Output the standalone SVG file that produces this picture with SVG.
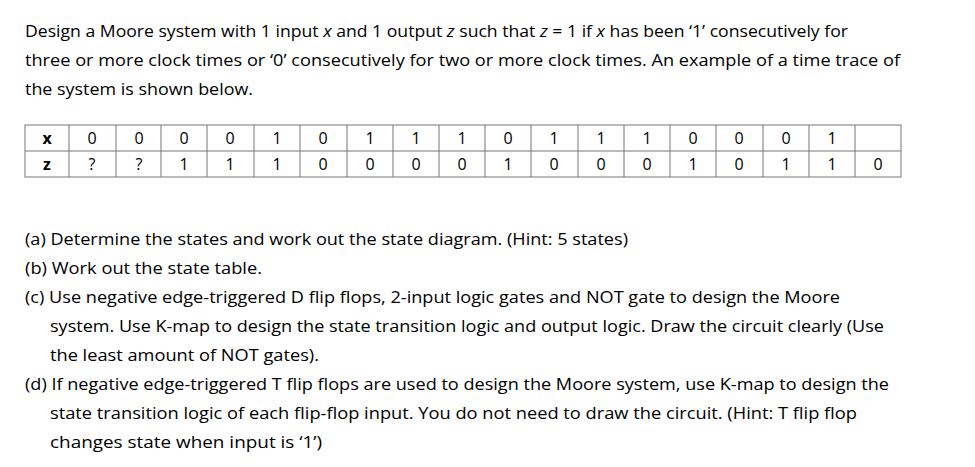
<svg xmlns="http://www.w3.org/2000/svg" width="975" height="467" viewBox="0 0 975 467">
<style>
text{font-family:"Open Sans","Liberation Sans",sans-serif;font-size:16.5px;fill:#000}
.c{text-anchor:middle;font-size:16px}
.b{font-weight:bold}
.i{font-style:italic}
line{stroke:#777;stroke-width:1}
</style>
<rect width="975" height="467" fill="#fff"/>
<g id="intro">
<text x="25" y="37" textLength="823" lengthAdjust="spacingAndGlyphs">Design a Moore system with 1 input <tspan class="i">x</tspan> and 1 output <tspan class="i">z</tspan> such that <tspan class="i">z</tspan> = 1 if <tspan class="i">x</tspan> has been ‘1’ consecutively for</text>
<text x="25" y="66" textLength="875" lengthAdjust="spacingAndGlyphs">three or more clock times or ‘0’ consecutively for two or more clock times. An example of a time trace of</text>
<text x="25" y="95" textLength="228" lengthAdjust="spacingAndGlyphs">the system is shown below.</text>
</g>
<g id="table">
<rect x="25" y="125" width="876" height="52" fill="none" stroke="#777"/>
<line x1="25" y1="151" x2="901" y2="151"/>
<line x1="69" y1="125" x2="69" y2="177"/><line x1="116" y1="125" x2="116" y2="177"/><line x1="161" y1="125" x2="161" y2="177"/><line x1="207" y1="125" x2="207" y2="177"/><line x1="254" y1="125" x2="254" y2="177"/><line x1="300" y1="125" x2="300" y2="177"/><line x1="347" y1="125" x2="347" y2="177"/><line x1="393" y1="125" x2="393" y2="177"/><line x1="439" y1="125" x2="439" y2="177"/><line x1="485" y1="125" x2="485" y2="177"/><line x1="531" y1="125" x2="531" y2="177"/><line x1="578" y1="125" x2="578" y2="177"/><line x1="624" y1="125" x2="624" y2="177"/><line x1="670" y1="125" x2="670" y2="177"/><line x1="716" y1="125" x2="716" y2="177"/><line x1="763" y1="125" x2="763" y2="177"/><line x1="809" y1="125" x2="809" y2="177"/><line x1="855" y1="125" x2="855" y2="177"/>
<text class="c b" x="47" y="144">x</text><text class="c b" x="47" y="170">z</text>
<text class="c" x="92" y="144">0</text><text class="c" x="139" y="144">0</text><text class="c" x="184" y="144">0</text><text class="c" x="230" y="144">0</text><text class="c" x="277" y="144">1</text><text class="c" x="323" y="144">0</text><text class="c" x="370" y="144">1</text><text class="c" x="416" y="144">1</text><text class="c" x="462" y="144">1</text><text class="c" x="508" y="144">0</text><text class="c" x="554" y="144">1</text><text class="c" x="601" y="144">1</text><text class="c" x="647" y="144">1</text><text class="c" x="693" y="144">0</text><text class="c" x="739" y="144">0</text><text class="c" x="786" y="144">0</text><text class="c" x="832" y="144">1</text>
<text class="c" x="92" y="170">?</text><text class="c" x="139" y="170">?</text><text class="c" x="184" y="170">1</text><text class="c" x="230" y="170">1</text><text class="c" x="277" y="170">1</text><text class="c" x="323" y="170">0</text><text class="c" x="370" y="170">0</text><text class="c" x="416" y="170">0</text><text class="c" x="462" y="170">0</text><text class="c" x="508" y="170">1</text><text class="c" x="554" y="170">0</text><text class="c" x="601" y="170">0</text><text class="c" x="647" y="170">0</text><text class="c" x="693" y="170">1</text><text class="c" x="739" y="170">0</text><text class="c" x="786" y="170">1</text><text class="c" x="832" y="170">1</text><text class="c" x="878" y="170">0</text>
</g>
<g id="questions">
<text x="25" y="245" textLength="603" lengthAdjust="spacingAndGlyphs">(a) Determine the states and work out the state diagram. (Hint: 5 states)</text>
<text x="25" y="274" textLength="237" lengthAdjust="spacingAndGlyphs">(b) Work out the state table.</text>
<text x="25" y="303" textLength="815" lengthAdjust="spacingAndGlyphs">(c) Use negative edge-triggered D flip flops, 2-input logic gates and NOT gate to design the Moore</text>
<text x="50" y="332" textLength="834" lengthAdjust="spacingAndGlyphs">system. Use K-map to design the state transition logic and output logic. Draw the circuit clearly (Use</text>
<text x="50" y="361" textLength="269" lengthAdjust="spacingAndGlyphs">the least amount of NOT gates).</text>
<text x="25" y="390" textLength="864" lengthAdjust="spacingAndGlyphs">(d)  If negative edge-triggered T flip flops are used to design the Moore system, use K-map to design the</text>
<text x="50" y="419" textLength="807" lengthAdjust="spacingAndGlyphs">state transition logic of each flip-flop input. You do not need to draw the circuit. (Hint: T flip flop</text>
<text x="50" y="448" textLength="272" lengthAdjust="spacingAndGlyphs">changes state when input is ‘1’)</text>
</g>
</svg>
